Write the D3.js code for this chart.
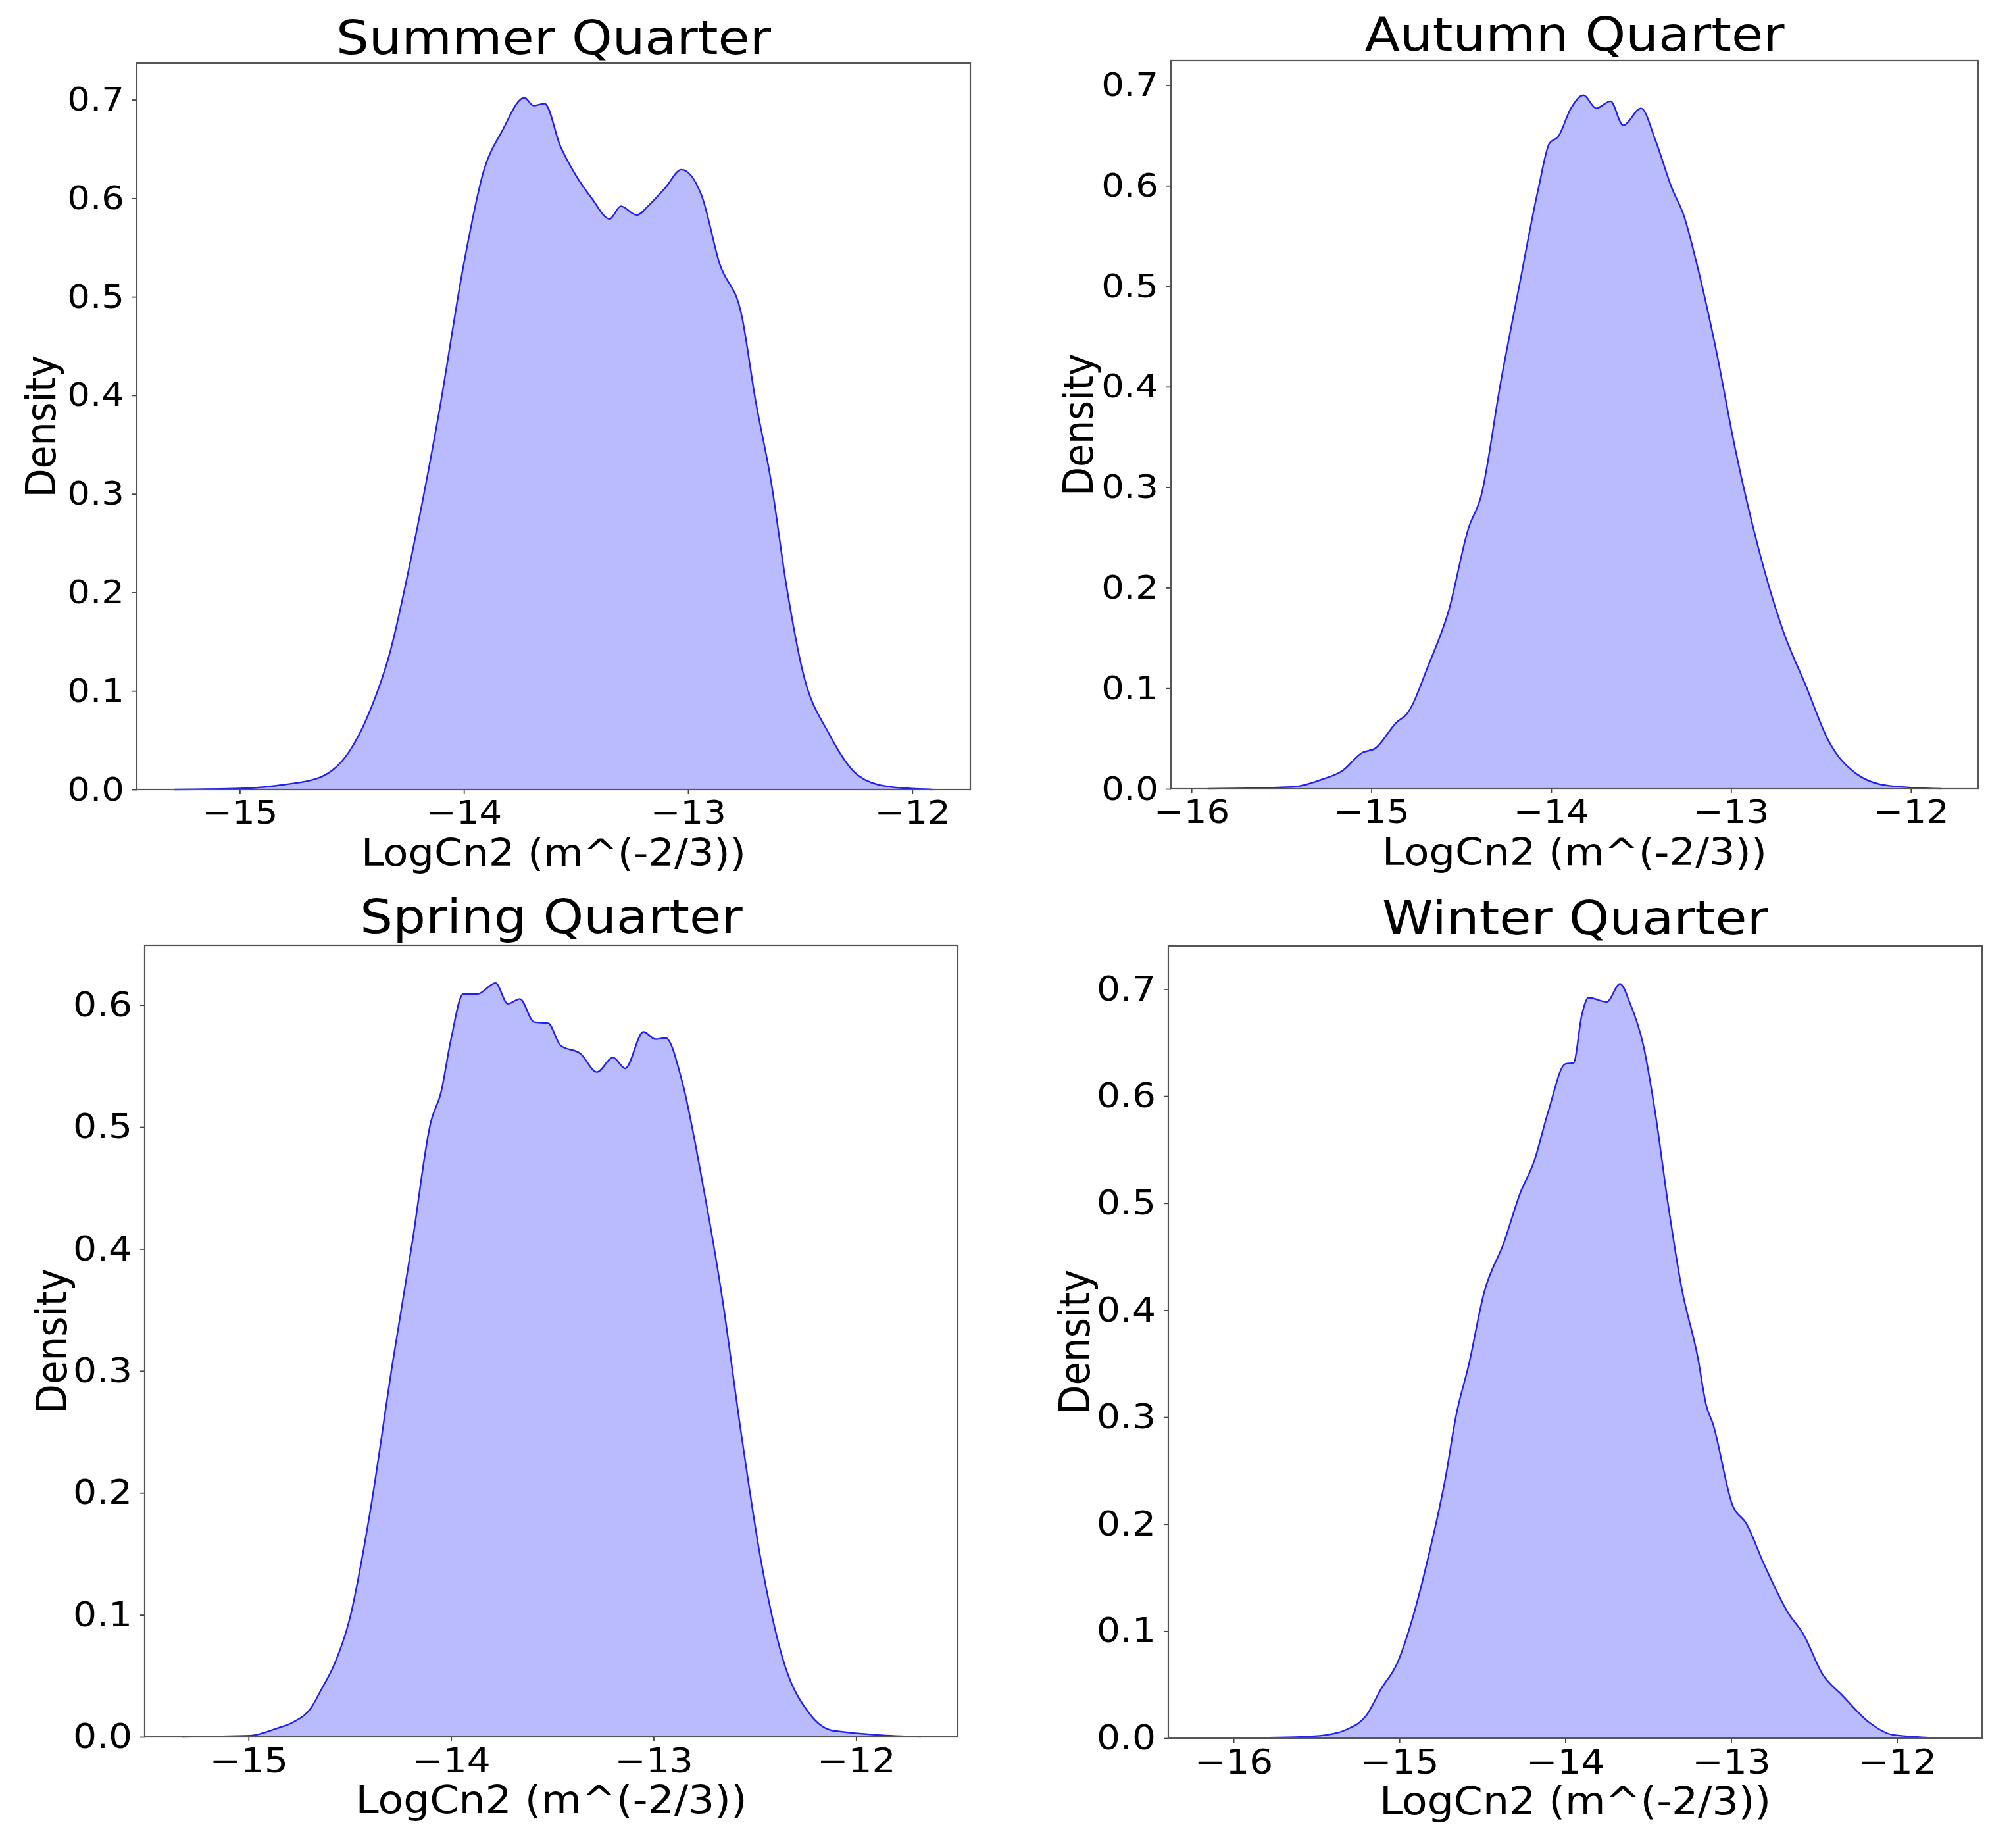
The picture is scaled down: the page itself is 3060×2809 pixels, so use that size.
<!DOCTYPE html>
<html>
<head>
<meta charset="utf-8">
<script src="https://cdn.jsdelivr.net/npm/d3@7"></script>
<style>
  body { margin: 0; background: #fff; }
  svg text { font-family: "DejaVu Sans", sans-serif; fill: #000; }
</style>
</head>
<body>
<div id="chart"></div>
<script>
// density curves (x = LogCn2, y = density)
const summerX = [-15.29, -15.0, -14.8, -14.64, -14.51, -14.43, -14.33, -14.23, -14.11, -14.0, -13.91, -13.83, -13.73, -13.69, -13.64, -13.57, -13.5, -13.43, -13.35, -13.3, -13.23, -13.17, -13.1, -13.03, -12.94, -12.86, -12.76, -12.7, -12.63, -12.56, -12.49, -12.37, -12.24, -12.11, -11.91];
const summerY = [0, 0.001, 0.005, 0.0125, 0.039, 0.074, 0.139, 0.241, 0.384, 0.534, 0.629, 0.668, 0.702, 0.694, 0.696, 0.653, 0.623, 0.600, 0.579, 0.592, 0.583, 0.594, 0.611, 0.629, 0.603, 0.534, 0.48, 0.396, 0.313, 0.205, 0.121, 0.056, 0.014, 0.003, 0];

const autumnX = [-15.91, -15.43, -15.28, -15.16, -15.05, -14.98, -14.86, -14.8, -14.68, -14.57, -14.46, -14.39, -14.28, -14.18, -14.07, -14.01, -13.96, -13.89, -13.82, -13.75, -13.67, -13.6, -13.5, -13.42, -13.33, -13.26, -13.19, -13.08, -12.98, -12.85, -12.71, -12.58, -12.46, -12.3, -12.12, -11.83];
const autumnY = [0, 0.002, 0.009, 0.018, 0.036, 0.040, 0.066, 0.075, 0.124, 0.177, 0.259, 0.291, 0.405, 0.498, 0.598, 0.642, 0.649, 0.677, 0.690, 0.677, 0.684, 0.660, 0.677, 0.645, 0.598, 0.569, 0.522, 0.434, 0.341, 0.241, 0.157, 0.101, 0.0485, 0.0146, 0.003, 0];

const springX = [-15.33, -14.99, -14.86, -14.78, -14.69, -14.64, -14.58, -14.5, -14.4, -14.29, -14.19, -14.1, -14.05, -14.0, -13.94, -13.87, -13.78, -13.72, -13.66, -13.59, -13.52, -13.46, -13.36, -13.28, -13.2, -13.14, -13.05, -12.99, -12.94, -12.86, -12.76, -12.66, -12.57, -12.47, -12.36, -12.23, -12.11, -11.68];
const springY = [0, 0.001, 0.007, 0.012, 0.024, 0.039, 0.058, 0.097, 0.184, 0.305, 0.407, 0.504, 0.528, 0.572, 0.609, 0.609, 0.618, 0.601, 0.605, 0.586, 0.585, 0.567, 0.560, 0.545, 0.557, 0.548, 0.578, 0.572, 0.573, 0.538, 0.456, 0.359, 0.252, 0.145, 0.063, 0.019, 0.005, 0];

const winterX = [-16.17, -15.63, -15.44, -15.32, -15.2, -15.11, -15.01, -14.93, -14.82, -14.72, -14.66, -14.58, -14.49, -14.37, -14.27, -14.19, -14.1, -14.0, -13.95, -13.9, -13.86, -13.75, -13.67, -13.61, -13.53, -13.46, -13.38, -13.3, -13.2, -13.15, -13.11, -12.99, -12.91, -12.8, -12.66, -12.56, -12.45, -12.33, -12.17, -12.02, -11.71];
const winterY = [0, 0.001, 0.003, 0.008, 0.021, 0.046, 0.071, 0.107, 0.173, 0.245, 0.300, 0.350, 0.416, 0.463, 0.51, 0.538, 0.587, 0.630, 0.631, 0.676, 0.692, 0.688, 0.705, 0.687, 0.648, 0.587, 0.499, 0.422, 0.355, 0.311, 0.294, 0.217, 0.201, 0.162, 0.118, 0.096, 0.060, 0.040, 0.015, 0.003, 0];

const titles = ["Summer Quarter", "Autumn Quarter", "Spring Quarter", "Winter Quarter"];
const xTicksShort = [-15, -14, -13, -12];
const xTicksLong = [-16, -15, -14, -13, -12];
const yTicks7 = [0, 0.1, 0.2, 0.3, 0.4, 0.5, 0.6, 0.7];
const yTicks6 = [0, 0.1, 0.2, 0.3, 0.4, 0.5, 0.6];
const xLabel = "LogCn2 (m^(-2/3))";
const yLabel = "Density";

// the reference text is a little wider than plain DejaVu
const STRETCH = 1.09;

const svg = d3.select("#chart").append("svg")
    .attr("width", 3060)
    .attr("height", 2809);

svg.append("rect").attr("width", 3060).attr("height", 2809).attr("fill", "#fff");

const panels = [
    { xs: summerX, ys: summerY, title: titles[0], xt: xTicksShort, yt: yTicks7,
      left: 208, right: 1475, top: 96, bottom: 1200, titleY: 82, font: 50, labelFont: 57, yLabX: 63 },
    { xs: autumnX, ys: autumnY, title: titles[1], xt: xTicksLong, yt: yTicks7,
      left: 1780, right: 3007, top: 92, bottom: 1199, titleY: 77, font: 50, labelFont: 57, yLabX: 1640 },
    { xs: springX, ys: springY, title: titles[2], xt: xTicksShort, yt: yTicks6,
      left: 220, right: 1456, top: 1437, bottom: 2640, titleY: 1418, font: 52, labelFont: 58, yLabX: 80 },
    { xs: winterX, ys: winterY, title: titles[3], xt: xTicksLong, yt: yTicks7,
      left: 1776, right: 3013, top: 1438, bottom: 2642, titleY: 1420, font: 52, labelFont: 58, yLabX: 1635 }
];

panels.forEach(drawPanel);

function drawPanel(p) {
    const data = p.xs.map((x, i) => ({ x: x, y: p.ys[i] }));

    // matplotlib style 5% margins
    const [x0, x1] = d3.extent(p.xs);
    const pad = (x1 - x0) * 0.05;
    const x = d3.scaleLinear().domain([x0 - pad, x1 + pad]).range([p.left, p.right]);
    const y = d3.scaleLinear().domain([0, d3.max(p.ys) * 1.05]).range([p.bottom, p.top]);

    const g = svg.append("g");

    const area = d3.area()
        .x(d => x(d.x))
        .y0(y(0))
        .y1(d => y(d.y))
        .curve(d3.curveMonotoneX);

    const line = d3.line()
        .x(d => x(d.x))
        .y(d => y(d.y))
        .curve(d3.curveMonotoneX);

    g.append("path")
        .datum(data)
        .attr("d", area)
        .attr("fill", "#0000ff")
        .attr("fill-opacity", 0.27);

    g.append("path")
        .datum(data)
        .attr("d", line)
        .attr("fill", "none")
        .attr("stroke", "#2020f0")
        .attr("stroke-width", 2.4);

    // axes
    const xAxis = g.append("g")
        .attr("transform", `translate(0,${p.bottom})`)
        .call(d3.axisBottom(x).tickValues(p.xt).tickSize(7).tickPadding(10)
            .tickFormat(d => d3.format("d")(d).replace("-", "\u2212")));

    const yAxis = g.append("g")
        .attr("transform", `translate(${p.left},0)`)
        .call(d3.axisLeft(y).tickValues(p.yt).tickSize(7).tickPadding(12).tickFormat(d3.format(".1f")));

    [xAxis, yAxis].forEach(a => {
        a.select(".domain").remove();
        a.selectAll(".tick line").attr("stroke", "#444").attr("stroke-width", 1.8);
        a.selectAll(".tick text")
            .style("font-family", "DejaVu Sans, sans-serif")
            .style("font-size", p.font + "px")
            .attr("fill", "#000");
    });
    xAxis.selectAll(".tick text").attr("transform", `scale(${STRETCH},1)`);
    yAxis.selectAll(".tick text").attr("transform", `translate(-19,0) scale(${STRETCH},1) translate(19,0)`);

    // frame
    g.append("rect")
        .attr("x", p.left)
        .attr("y", p.top)
        .attr("width", p.right - p.left)
        .attr("height", p.bottom - p.top)
        .attr("fill", "none")
        .attr("stroke", "#555")
        .attr("stroke-width", 2.2);

    // labels
    const cx = (p.left + p.right) / 2;
    g.append("text")
        .attr("transform", `translate(${cx},${p.titleY}) scale(${STRETCH},1)`)
        .attr("text-anchor", "middle")
        .style("font-size", "72px")
        .text(p.title);

    g.append("text")
        .attr("transform", `translate(${cx},${p.bottom + 116}) scale(${STRETCH},1)`)
        .attr("text-anchor", "middle")
        .style("font-size", p.labelFont + "px")
        .text(xLabel);

    g.append("text")
        .attr("transform", `translate(${p.yLabX + 21},${(p.top + p.bottom) / 2}) rotate(-90) scale(1,${STRETCH})`)
        .attr("text-anchor", "middle")
        .style("font-size", p.labelFont + "px")
        .text(yLabel);
}
</script>
</body>
</html>
